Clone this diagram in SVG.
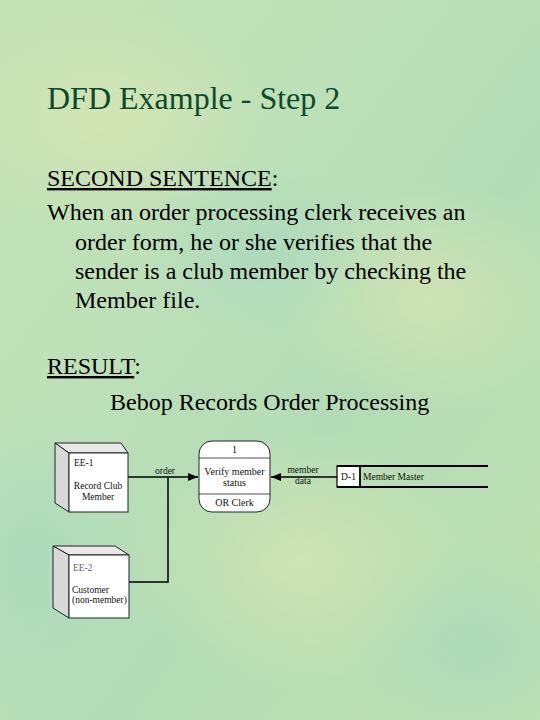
<svg xmlns="http://www.w3.org/2000/svg" width="540" height="720" viewBox="0 0 540 720">
<defs>
<linearGradient id="bg" x1="0" y1="0" x2="1" y2="1">
<stop offset="0" stop-color="#c6e3b5"/>
<stop offset="0.35" stop-color="#bde0b8"/>
<stop offset="0.6" stop-color="#b3dcb6"/>
<stop offset="1" stop-color="#c0e0b0"/>
</linearGradient>
<radialGradient id="y1" cx="0.5" cy="0.5" r="0.5">
<stop offset="0" stop-color="#dbe6b2" stop-opacity="0.7"/>
<stop offset="1" stop-color="#dbe6b2" stop-opacity="0"/>
</radialGradient>
<radialGradient id="b1" cx="0.5" cy="0.5" r="0.5">
<stop offset="0" stop-color="#a8d9bf" stop-opacity="0.7"/>
<stop offset="1" stop-color="#a8d9bf" stop-opacity="0"/>
</radialGradient>
<marker id="arr" viewBox="0 0 10 10" refX="10" refY="5" markerWidth="10" markerHeight="10" markerUnits="userSpaceOnUse" orient="auto">
<path d="M0,1 L10,5 L0,9 Z" fill="#000"/>
</marker>
<style>
.t{font-family:"Liberation Serif","Times New Roman",serif;}
.body{font-size:24px;fill:#000;}
.title{font-size:32px;fill:#0d4a2c;}
.s{font-size:9.5px;fill:#111;}
.p{font-size:10px;}
.box{fill:#fff;stroke:#222;stroke-width:1;}
.side{fill:#d8d8d8;stroke:#222;stroke-width:1;}
.top{fill:#e8e8e8;stroke:#222;stroke-width:1;}
.ln{fill:none;stroke:#000;stroke-width:1.5;}
</style>
</defs>
<rect width="540" height="720" fill="url(#bg)"/>
<ellipse cx="110" cy="120" rx="160" ry="110" fill="url(#y1)"/>
<ellipse cx="430" cy="300" rx="150" ry="120" fill="url(#y1)"/>
<ellipse cx="300" cy="560" rx="170" ry="130" fill="url(#y1)"/>
<ellipse cx="30" cy="560" rx="120" ry="160" fill="url(#b1)"/>
<ellipse cx="480" cy="650" rx="140" ry="110" fill="url(#b1)"/>
<ellipse cx="260" cy="250" rx="120" ry="90" fill="url(#b1)"/>

<text class="t title" x="47" y="109">DFD Example - Step 2</text>
<g class="t body">
<text x="47" y="186"><tspan text-decoration="underline">SECOND SENTENCE</tspan>:</text>
<text x="47" y="220">When an order processing clerk receives an</text>
<text x="75" y="250">order form, he or she verifies that the</text>
<text x="75" y="279">sender is a club member by checking the</text>
<text x="75" y="308">Member file.</text>
<text x="47" y="374"><tspan text-decoration="underline">RESULT</tspan>:</text>
<text x="110" y="410">Bebop Records Order Processing</text>
</g>

<g id="connectors">
<line class="ln" x1="128" y1="477" x2="198" y2="477" marker-end="url(#arr)"/>
<polyline class="ln" points="168,477 168,582 129,582"/>
<line class="ln" x1="337" y1="477" x2="271" y2="477" marker-end="url(#arr)"/>
<text class="t s" x="165" y="474" text-anchor="middle">order</text>
<text class="t s" x="303" y="473" text-anchor="middle">member</text>
<text class="t s" x="303" y="484" text-anchor="middle">data</text>
</g>

<g id="ee1">
<polygon class="top" points="55,443 121,443 128,453 69,453"/>
<polygon class="side" points="55,443 69,453 69,512 55,503"/>
<rect class="box" x="69" y="453" width="59" height="59"/>
<text class="t s" x="74" y="466">EE-1</text>
<text class="t s" x="98" y="489" text-anchor="middle">Record Club</text>
<text class="t s" x="98" y="500" text-anchor="middle">Member</text>
</g>

<g id="ee2">
<polygon class="top" points="53,546 115,546 129,555 69,555"/>
<polygon class="side" points="53,546 69,555 69,618 53,608"/>
<rect class="box" x="69" y="555" width="60" height="63"/>
<text class="t s" x="73" y="571" style="fill:#666">EE-2</text>
<text class="t s" x="72" y="593">Customer</text>
<text class="t s" x="72" y="603">(non-member)</text>
</g>

<g id="p1">
<rect class="box" x="199" y="441" width="71" height="71" rx="13" ry="13"/>
<line x1="199" y1="458" x2="270" y2="458" stroke="#222" stroke-width="0.8"/>
<line x1="199" y1="494" x2="270" y2="494" stroke="#222" stroke-width="0.8"/>
<text class="t s p" x="234.5" y="453" text-anchor="middle">1</text>
<text class="t s p" x="234.5" y="475" text-anchor="middle">Verify member</text>
<text class="t s p" x="234.5" y="486" text-anchor="middle">status</text>
<text class="t s p" x="234.5" y="506" text-anchor="middle">OR Clerk</text>
</g>

<g id="d1">
<rect x="337" y="466" width="23" height="21" fill="#fff" stroke="#000" stroke-width="1.2"/>
<line x1="337" y1="466" x2="488" y2="466" stroke="#000" stroke-width="1.8"/>
<line x1="337" y1="487" x2="488" y2="487" stroke="#000" stroke-width="1.8"/>
<line x1="360" y1="466" x2="360" y2="487" stroke="#000" stroke-width="1.5"/>
<text class="t s" x="348.5" y="480" text-anchor="middle">D-1</text>
<text class="t s" x="363" y="480">Member Master</text>
</g>
</svg>
